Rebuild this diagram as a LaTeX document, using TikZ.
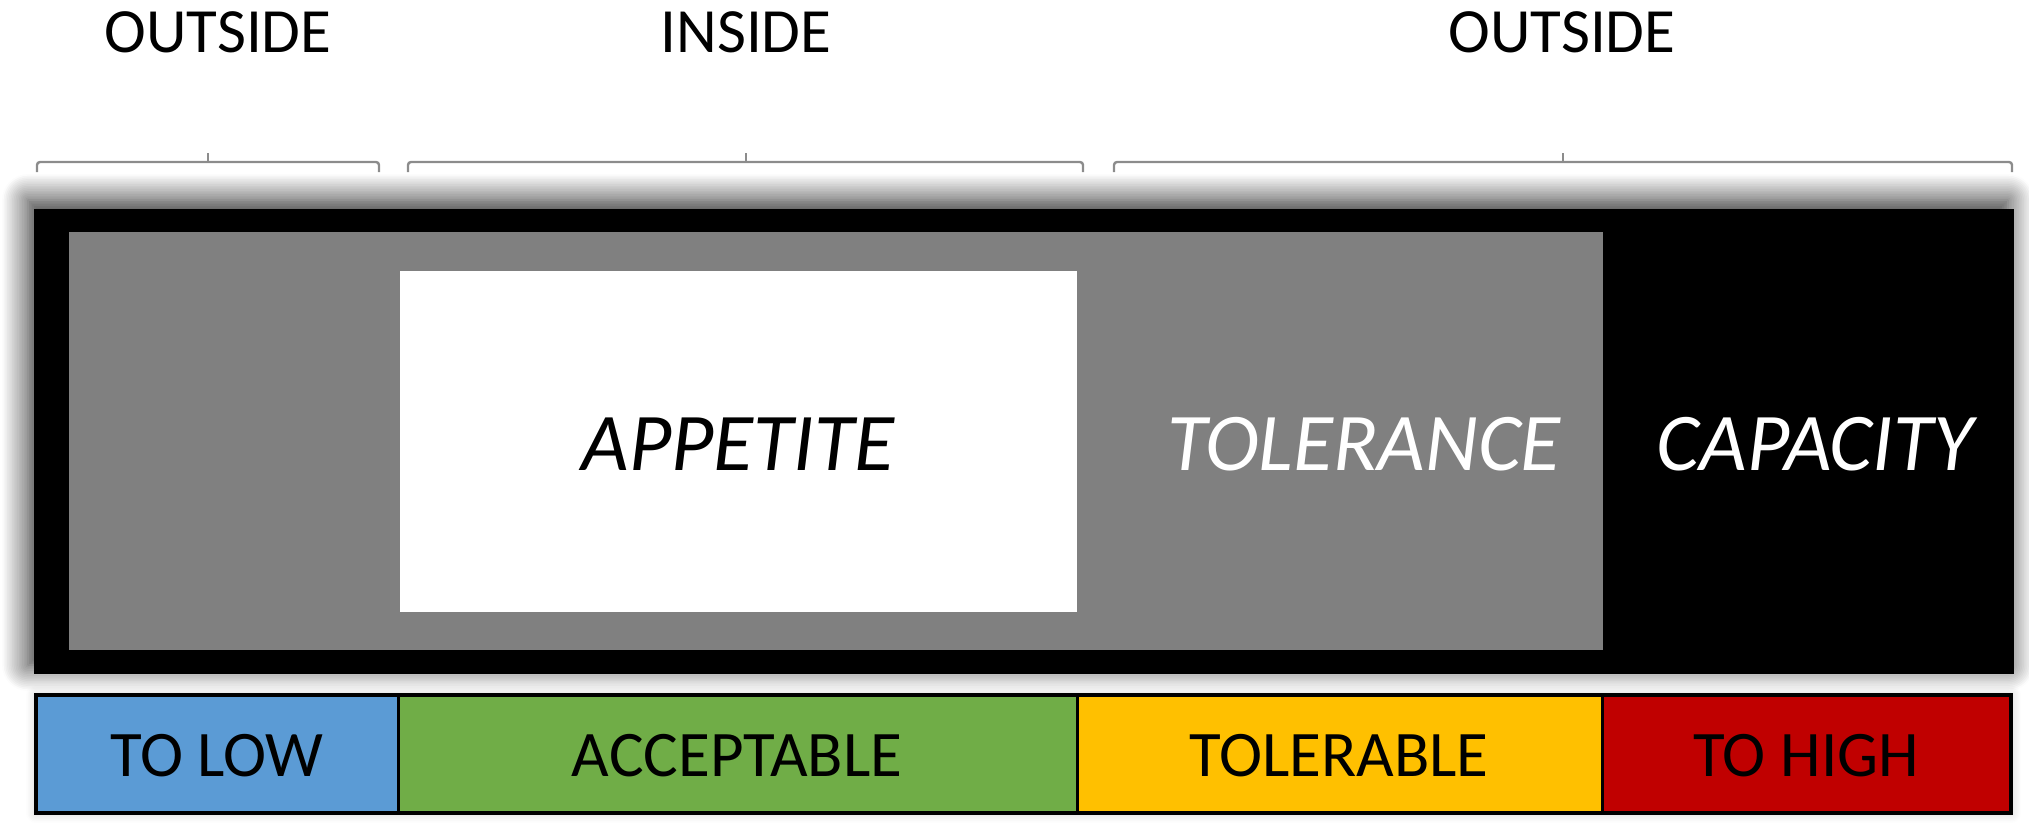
\documentclass[tikz,border=0pt]{standalone}
\usepackage{fontspec}
\setmainfont{Carlito}
\usetikzlibrary{shadows.blur}
\definecolor{midgray}{HTML}{808080}
\definecolor{brgray}{HTML}{8C8C8C}
\definecolor{lowblue}{HTML}{5B9BD5}
\definecolor{okgreen}{HTML}{70AD47}
\definecolor{tolyellow}{HTML}{FFC000}
\definecolor{highred}{HTML}{C00000}
\tikzset{
  bracketline/.style={draw=brgray, line width=2.4pt, rounded corners=3pt},
  bracktick/.style={draw=brgray, line width=2.4pt},
  toplabel/.style={anchor=base, inner sep=0pt, font=\fontsize{63}{70}\selectfont},
  biglabel/.style={anchor=base, inner sep=0pt, font=\fontsize{82}{90}\selectfont\itshape},
  barlabel/.style={anchor=base, inner sep=0pt, font=\fontsize{65}{75}\selectfont},
  barcell/.style={draw=black, line width=3pt},
}
\begin{document}
\begin{tikzpicture}[x=1pt,y=-1pt]
\useasboundingbox (0,0) rectangle (2029,830);
% top labels
\node[toplabel] (out1) at (218,52) {OUTSIDE};
\node[toplabel] (in) at (746,52) {INSIDE};
\node[toplabel] (out2) at (1562,52) {OUTSIDE};
% brackets
\draw[bracketline] (37,172) -- (37,162) -- (379,162) -- (379,172);
\draw[bracktick] (208,162) -- (208,153);
\draw[bracketline] (408,172) -- (408,162) -- (1083,162) -- (1083,172);
\draw[bracktick] (746,162) -- (746,153);
\draw[bracketline] (1114,172) -- (1114,162) -- (2012,162) -- (2012,172);
\draw[bracktick] (1563,162) -- (1563,153);
% main box
\fill[black, blur shadow={shadow xshift=-6pt, shadow yshift=9pt, shadow blur radius=26pt, shadow blur steps=16, shadow opacity=85}] (34,209) rectangle (2014,674);
\fill[midgray] (69,232) rectangle (1603,650);
\fill[white] (400,271) rectangle (1077,612);
\node[biglabel, text=black] (app) at (738,470) {APPETITE};
\node[biglabel, text=white] (tol) at (1364,470) {TOLERANCE};
\node[biglabel, text=white] (cap) at (1815,470) {CAPACITY};
% bottom bar
\fill[white, blur shadow={shadow xshift=0pt, shadow yshift=0pt, shadow blur radius=10pt, shadow blur steps=8, shadow opacity=20}] (36,695) rectangle (2011,813);
\fill[lowblue] (36,695) rectangle (398,813);
\fill[okgreen] (398,695) rectangle (1077,813);
\fill[tolyellow] (1077,695) rectangle (1602,813);
\fill[highred] (1602,695) rectangle (2011,813);
\draw[barcell] (398,695) -- (398,813);
\draw[barcell] (1077,695) -- (1077,813);
\draw[barcell] (1602,695) -- (1602,813);
\draw[draw=black, line width=4pt] (36,695) rectangle (2011,813);
\node[barlabel] (low) at (217,776) {TO LOW};
\node[barlabel] (acc) at (737,776) {ACCEPTABLE};
\node[barlabel] (tbl) at (1339,776) {TOLERABLE};
\node[barlabel] (high) at (1806,776) {TO HIGH};
\end{tikzpicture}
\end{document}
